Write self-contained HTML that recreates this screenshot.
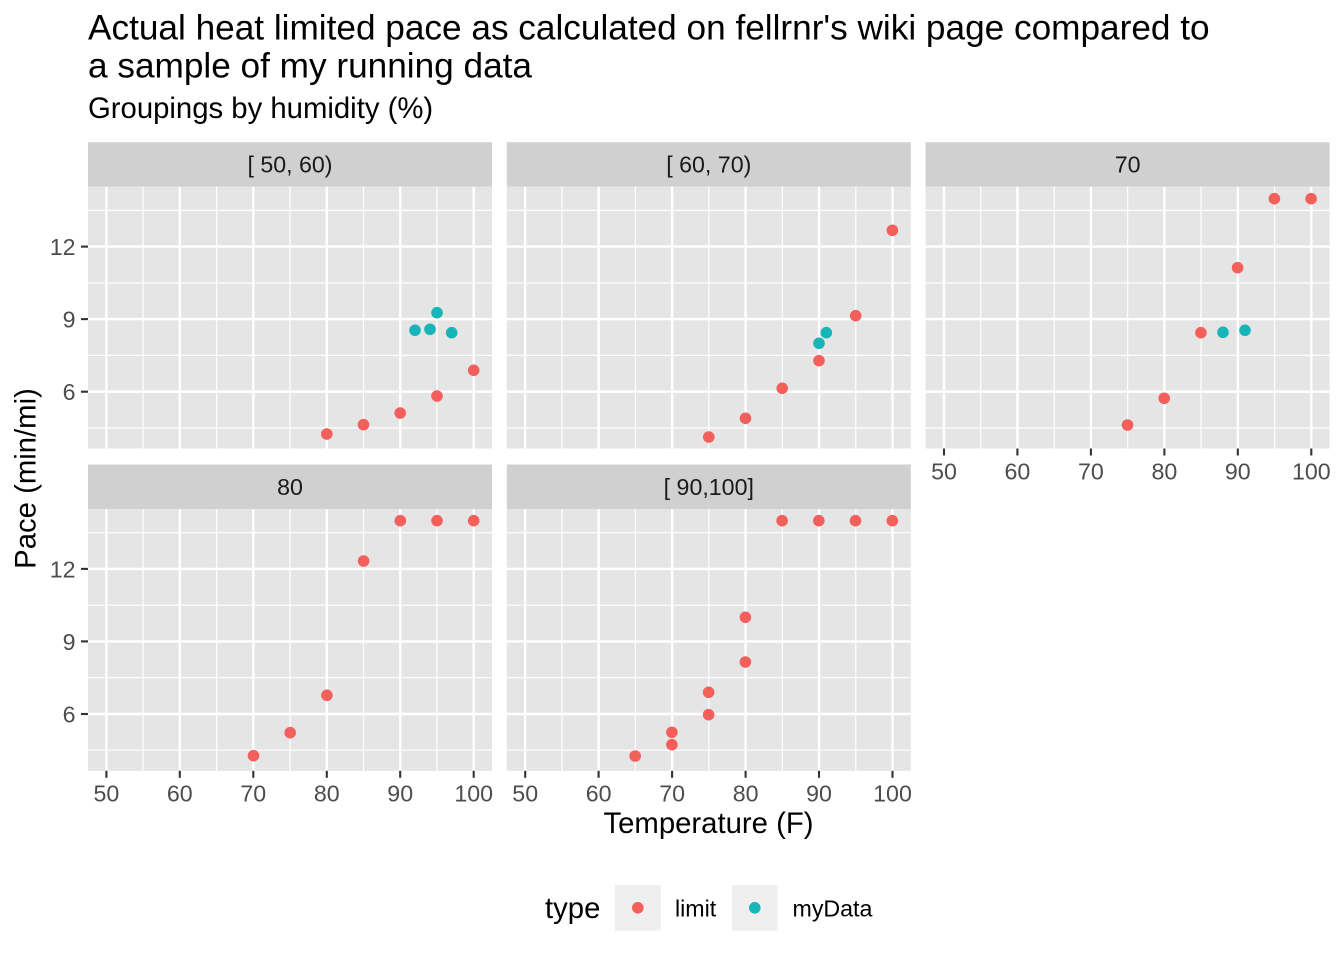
<!DOCTYPE html>
<html>
<head>
<meta charset="utf-8">
<style>
html,body{margin:0;padding:0;background:#fff;}
svg{display:block;}
text{font-family:"Liberation Sans",Arial,Helvetica,sans-serif;}
</style>
</head>
<body>
<svg width="1344" height="960" viewBox="0 0 1344 960" xmlns="http://www.w3.org/2000/svg">
<defs>
<g id="grid">
<rect x="0" y="0" width="404" height="261.8" fill="#E5E5E5"/>
<g stroke="#FFFFFF" stroke-width="1.2">
<line x1="55.10" y1="0" x2="55.10" y2="261.8"/>
<line x1="128.57" y1="0" x2="128.57" y2="261.8"/>
<line x1="202.04" y1="0" x2="202.04" y2="261.8"/>
<line x1="275.51" y1="0" x2="275.51" y2="261.8"/>
<line x1="348.98" y1="0" x2="348.98" y2="261.8"/>
<line x1="0" y1="23.7" x2="404" y2="23.7"/>
<line x1="0" y1="96.2" x2="404" y2="96.2"/>
<line x1="0" y1="168.7" x2="404" y2="168.7"/>
<line x1="0" y1="241.2" x2="404" y2="241.2"/>
</g>
<g stroke="#FFFFFF" stroke-width="2.4">
<line x1="18.37" y1="0" x2="18.37" y2="261.8"/>
<line x1="91.84" y1="0" x2="91.84" y2="261.8"/>
<line x1="165.31" y1="0" x2="165.31" y2="261.8"/>
<line x1="238.78" y1="0" x2="238.78" y2="261.8"/>
<line x1="312.25" y1="0" x2="312.25" y2="261.8"/>
<line x1="385.72" y1="0" x2="385.72" y2="261.8"/>
<line x1="0" y1="59.9" x2="404" y2="59.9"/>
<line x1="0" y1="132.4" x2="404" y2="132.4"/>
<line x1="0" y1="205.0" x2="404" y2="205.0"/>
</g>
</g>
</defs>

<!-- Title -->
<text x="88" y="39.5" font-size="35.2" fill="#000">Actual heat limited pace as calculated on fellrnr's wiki page compared to</text>
<text x="88" y="77.7" font-size="35.2" fill="#000">a sample of my running data</text>
<text x="88" y="118" font-size="29.3" fill="#000">Groupings by humidity (%)</text>

<!-- Strips -->
<g fill="#D0D0D0">
<rect x="88" y="142.2" width="404" height="44.5"/>
<rect x="506.8" y="142.2" width="404" height="44.5"/>
<rect x="925.6" y="142.2" width="404" height="44.5"/>
<rect x="88" y="464.5" width="404" height="44.5"/>
<rect x="506.8" y="464.5" width="404" height="44.5"/>
</g>
<g font-size="23.2" fill="#1A1A1A" text-anchor="middle">
<text x="290" y="172.5">[ 50, 60)</text>
<text x="708.8" y="172.5">[ 60, 70)</text>
<text x="1127.6" y="172.5">70</text>
<text x="290" y="494.8">80</text>
<text x="708.8" y="494.8">[ 90,100]</text>
</g>

<!-- Panels -->
<use href="#grid" x="88" y="186.7"/>
<use href="#grid" x="506.8" y="186.7"/>
<use href="#grid" x="925.6" y="186.7"/>
<use href="#grid" x="88" y="509"/>
<use href="#grid" x="506.8" y="509"/>

<!-- Points -->
<g fill="#F35F5B">
<!-- panel 1 -->
<circle cx="326.8" cy="434" r="5.8"/>
<circle cx="363.5" cy="424.7" r="5.8"/>
<circle cx="400.2" cy="413" r="5.8"/>
<circle cx="437" cy="396" r="5.8"/>
<circle cx="473.7" cy="370.3" r="5.8"/>
<!-- panel 2 -->
<circle cx="708.8" cy="437" r="5.8"/>
<circle cx="745.5" cy="418.3" r="5.8"/>
<circle cx="782.2" cy="388.3" r="5.8"/>
<circle cx="819" cy="360.7" r="5.8"/>
<circle cx="855.7" cy="315.7" r="5.8"/>
<circle cx="892.4" cy="230.3" r="5.8"/>
<!-- panel 3 -->
<circle cx="1127.5" cy="425" r="5.8"/>
<circle cx="1164.2" cy="398.3" r="5.8"/>
<circle cx="1200.9" cy="332.7" r="5.8"/>
<circle cx="1237.6" cy="267.7" r="5.8"/>
<circle cx="1274.4" cy="198.7" r="5.8"/>
<circle cx="1311.1" cy="198.7" r="5.8"/>
<!-- panel 4 -->
<circle cx="253.5" cy="755.7" r="5.8"/>
<circle cx="290.2" cy="732.7" r="5.8"/>
<circle cx="326.9" cy="695.3" r="5.8"/>
<circle cx="363.6" cy="561" r="5.8"/>
<circle cx="400.3" cy="520.7" r="5.8"/>
<circle cx="437" cy="520.7" r="5.8"/>
<circle cx="473.7" cy="520.7" r="5.8"/>
<!-- panel 5 -->
<circle cx="635.2" cy="756" r="5.8"/>
<circle cx="671.9" cy="744.7" r="5.8"/>
<circle cx="671.9" cy="732.3" r="5.8"/>
<circle cx="708.6" cy="714.7" r="5.8"/>
<circle cx="708.6" cy="692.3" r="5.8"/>
<circle cx="745.4" cy="662" r="5.8"/>
<circle cx="745.4" cy="617.3" r="5.8"/>
<circle cx="782.1" cy="520.7" r="5.8"/>
<circle cx="818.8" cy="520.7" r="5.8"/>
<circle cx="855.5" cy="520.7" r="5.8"/>
<circle cx="892.3" cy="520.7" r="5.8"/>
</g>
<g fill="#17B4B8">
<circle cx="415" cy="330.3" r="5.8"/>
<circle cx="430" cy="329.3" r="5.8"/>
<circle cx="437" cy="312.7" r="5.8"/>
<circle cx="451.7" cy="332.7" r="5.8"/>
<circle cx="819" cy="343.3" r="5.8"/>
<circle cx="826.3" cy="332.7" r="5.8"/>
<circle cx="1223" cy="332.3" r="5.8"/>
<circle cx="1245" cy="330.3" r="5.8"/>
</g>

<!-- Axis ticks -->
<g stroke="#333333" stroke-width="2.1">
<line x1="81" y1="246.6" x2="88" y2="246.6"/>
<line x1="81" y1="319.1" x2="88" y2="319.1"/>
<line x1="81" y1="391.7" x2="88" y2="391.7"/>
<line x1="81" y1="568.9" x2="88" y2="568.9"/>
<line x1="81" y1="641.4" x2="88" y2="641.4"/>
<line x1="81" y1="714.0" x2="88" y2="714.0"/>
<!-- panel 4 x ticks -->
<line x1="106.4" y1="770.8" x2="106.4" y2="777.8"/>
<line x1="179.8" y1="770.8" x2="179.8" y2="777.8"/>
<line x1="253.3" y1="770.8" x2="253.3" y2="777.8"/>
<line x1="326.8" y1="770.8" x2="326.8" y2="777.8"/>
<line x1="400.2" y1="770.8" x2="400.2" y2="777.8"/>
<line x1="473.7" y1="770.8" x2="473.7" y2="777.8"/>
<!-- panel 5 x ticks -->
<line x1="525.2" y1="770.8" x2="525.2" y2="777.8"/>
<line x1="598.6" y1="770.8" x2="598.6" y2="777.8"/>
<line x1="672.1" y1="770.8" x2="672.1" y2="777.8"/>
<line x1="745.6" y1="770.8" x2="745.6" y2="777.8"/>
<line x1="819.0" y1="770.8" x2="819.0" y2="777.8"/>
<line x1="892.5" y1="770.8" x2="892.5" y2="777.8"/>
<!-- panel 3 x ticks -->
<line x1="944.0" y1="448.5" x2="944.0" y2="455.5"/>
<line x1="1017.4" y1="448.5" x2="1017.4" y2="455.5"/>
<line x1="1090.9" y1="448.5" x2="1090.9" y2="455.5"/>
<line x1="1164.4" y1="448.5" x2="1164.4" y2="455.5"/>
<line x1="1237.8" y1="448.5" x2="1237.8" y2="455.5"/>
<line x1="1311.3" y1="448.5" x2="1311.3" y2="455.5"/>
</g>

<!-- Tick labels -->
<g font-size="23.2" fill="#4D4D4D">
<g text-anchor="end">
<text x="75.5" y="255">12</text>
<text x="75.5" y="327.6">9</text>
<text x="75.5" y="400.2">6</text>
<text x="75.5" y="577.4">12</text>
<text x="75.5" y="649.9">9</text>
<text x="75.5" y="722.5">6</text>
</g>
<g text-anchor="middle">
<text x="106.4" y="801.7">50</text>
<text x="179.8" y="801.7">60</text>
<text x="253.3" y="801.7">70</text>
<text x="326.8" y="801.7">80</text>
<text x="400.2" y="801.7">90</text>
<text x="473.7" y="801.7">100</text>
<text x="525.2" y="801.7">50</text>
<text x="598.6" y="801.7">60</text>
<text x="672.1" y="801.7">70</text>
<text x="745.6" y="801.7">80</text>
<text x="819.0" y="801.7">90</text>
<text x="892.5" y="801.7">100</text>
<text x="944.0" y="479.5">50</text>
<text x="1017.4" y="479.5">60</text>
<text x="1090.9" y="479.5">70</text>
<text x="1164.4" y="479.5">80</text>
<text x="1237.8" y="479.5">90</text>
<text x="1311.3" y="479.5">100</text>
</g>
</g>

<!-- Axis titles -->
<text x="708.5" y="833" font-size="29.3" fill="#000" text-anchor="middle">Temperature (F)</text>
<text transform="translate(35.5,478.5) rotate(-90)" x="0" y="0" font-size="29.3" fill="#000" text-anchor="middle">Pace (min/mi)</text>

<!-- Legend -->
<text x="545" y="918" font-size="29.3" fill="#000">type</text>
<rect x="615" y="885" width="45.7" height="45.7" fill="#EFEFEF"/>
<rect x="732" y="885" width="45.7" height="45.7" fill="#EFEFEF"/>
<circle cx="637.8" cy="907.8" r="5.8" fill="#F35F5B"/>
<circle cx="754.8" cy="907.8" r="5.8" fill="#17B4B8"/>
<text x="675" y="916.5" font-size="23.2" fill="#000">limit</text>
<text x="792.5" y="916.5" font-size="23.2" fill="#000">myData</text>
</svg>
</body>
</html>
